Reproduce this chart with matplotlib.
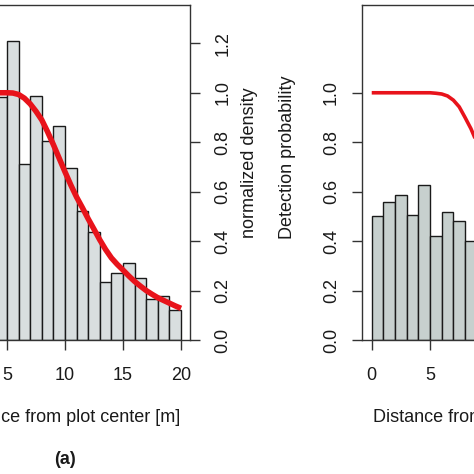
import matplotlib
matplotlib.use("Agg")
import matplotlib.pyplot as plt
import numpy as np

plt.rcParams['font.family'] = ['Liberation Sans', 'DejaVu Sans']

# ---- data ----
# left panel: normalized density histogram (1 m bins; left edges)
left_bin_edges = [4, 5, 6, 7, 8, 9, 10, 11, 12, 13, 14, 15, 16, 17, 18, 19]
left_density = [0.983, 1.21, 0.71, 0.986, 0.804, 0.865, 0.696, 0.52,
                0.435, 0.233, 0.269, 0.31, 0.249, 0.164, 0.179, 0.121]
left_curve_x = [0, 2, 4, 5, 5.5, 6, 6.5, 7, 7.5, 8, 8.5, 9, 9.5, 10, 10.5,
                11, 11.5, 12, 12.5, 13, 13.5, 14, 14.5, 15, 15.5, 16, 16.5,
                17, 17.5, 18, 18.5, 19, 19.5, 20]
left_curve_y = [1.0, 1.0, 1.0, 1.0, 0.999, 0.993, 0.978, 0.955, 0.925, 0.89,
                0.842, 0.79, 0.735, 0.68, 0.627, 0.578, 0.535, 0.49, 0.448,
                0.405, 0.366, 0.332, 0.306, 0.283, 0.259, 0.237, 0.218, 0.2,
                0.185, 0.171, 0.16, 0.149, 0.138, 0.128]

# right panel: detection probability histogram
right_bin_edges = [0, 1, 2, 3, 4, 5, 6, 7, 8]
right_density = [0.50, 0.56, 0.586, 0.505, 0.627, 0.421, 0.516, 0.481, 0.401]
right_curve_x = [0, 1, 2, 3, 4, 5, 5.5, 6, 6.5, 7, 7.5, 8, 8.5, 9]
right_curve_y = [1.0, 1.0, 1.0, 1.0, 1.0, 1.0, 0.998, 0.995, 0.987, 0.97,
                 0.943, 0.90, 0.855, 0.80]

left_yticks = [0.0, 0.2, 0.4, 0.6, 0.8, 1.0, 1.2]
right_yticks = [0.0, 0.2, 0.4, 0.6, 0.8, 1.0]
left_xticks = [5, 10, 15, 20]
right_xticks = [0, 5]

W = H = 474
fig = plt.figure(figsize=(4.74, 4.74), dpi=100)

def fx(px):
    return px / W

def fy(py):
    return 1 - py / H

FS = 13
axcol = '#333333'

axL = fig.add_axes([fx(-60.3), fy(340), 250.6 / W, 335 / H])
axR = fig.add_axes([fx(362.4), fy(340), 252 / W, 335 / H])

for ax, xt in ((axL, left_xticks), (axR, right_xticks)):
    ax.set_xlim(-0.8, 20.8)
    ax.set_ylim(0, 1.355)
    for s in ax.spines.values():
        s.set_color(axcol)
        s.set_linewidth(1.0)
    ax.set_xticks(xt)
    ax.set_xticklabels([str(t) for t in xt])
    ax.tick_params(axis='both', direction='out', length=7.2, width=1.0,
                   color=axcol, labelsize=FS, labelcolor='#1a1a1a')
    ax.tick_params(axis='x', pad=12)

axL.bar(left_bin_edges, left_density, width=1.0, align='edge',
        color='#d9dedf', edgecolor='#1a1a1a', linewidth=1.0, zorder=2)
axL.plot(left_curve_x, left_curve_y, color='#e8131b', linewidth=4.0,
         solid_capstyle='butt', zorder=3)
axL.yaxis.tick_right()
axL.set_yticks(left_yticks)
axL.set_yticklabels([f"{t:.1f}" for t in left_yticks])
axL.tick_params(axis='y', pad=10, labelrotation=90)
for lab in axL.get_yticklabels():
    lab.set_va('center')
    lab.set_ha('left')

axR.bar(right_bin_edges, right_density, width=1.0, align='edge',
        color='#c7d0ce', edgecolor='#1a1a1a', linewidth=1.0, zorder=2)
axR.plot(right_curve_x, right_curve_y, color='#e8131b', linewidth=2.6,
         solid_capstyle='butt', zorder=3)
axR.set_yticks(right_yticks)
axR.set_yticklabels([f"{t:.1f}" for t in right_yticks])
axR.tick_params(axis='y', pad=9, labelrotation=90)
for lab in axR.get_yticklabels():
    lab.set_va('center')
    lab.set_ha('right')

# axis titles and panel labels
fig.text(fx(65), fy(417), 'Distance from plot center [m]', fontsize=FS,
         ha='center', va='center', color='#1a1a1a')
fig.text(fx(488), fy(417), 'Distance from plot center [m]', fontsize=FS,
         ha='center', va='center', color='#1a1a1a')
fig.text(fx(250), fy(163), 'normalized density', fontsize=FS, rotation=90,
         ha='center', va='center', color='#1a1a1a')
fig.text(fx(287), fy(157), 'Detection probability', fontsize=FS, rotation=90,
         ha='center', va='center', color='#1a1a1a')
fig.text(fx(65), fy(460), '(a)', fontsize=FS, fontweight='bold',
         ha='center', va='center', color='#1a1a1a')

fig.savefig('out.png', dpi=100)
